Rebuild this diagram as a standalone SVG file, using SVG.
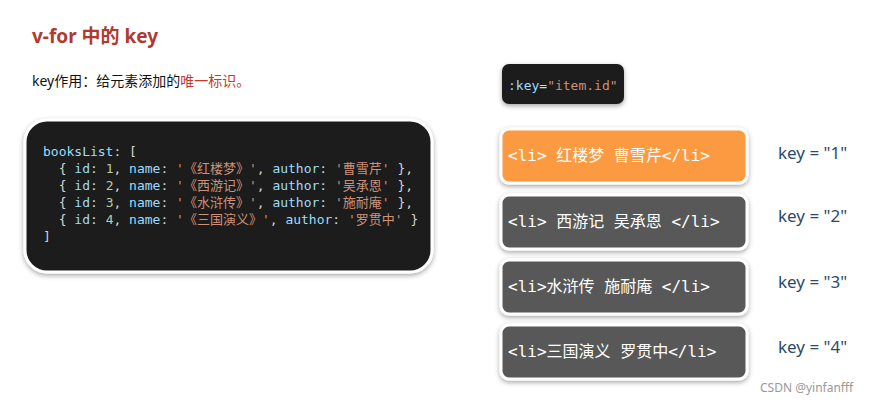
<svg xmlns="http://www.w3.org/2000/svg" width="892" height="403" viewBox="0 0 892 403">
<defs>
<filter id="sh" x="-10%" y="-10%" width="120%" height="130%"><feDropShadow dx="0" dy="2" stdDeviation="2.5" flood-color="#000" flood-opacity="0.35"/></filter>
<style>
.code{font-family:"DejaVu Sans Mono","Noto Sans CJK SC",monospace;font-size:13px;fill:#d4d4d4;white-space:pre}
.k{fill:#9cdcfe}.n{fill:#b5cea8}.s{fill:#ce9178}
.li{font-family:"DejaVu Sans Mono","Noto Sans CJK SC",monospace;font-size:16px;fill:#fff;white-space:pre}
.key{font-family:"Noto Sans","Liberation Sans",sans-serif;font-size:17px;fill:#2c4a6b}
.box{stroke:#fff;stroke-width:3}
</style>
</defs>
<rect width="892" height="403" fill="#fff"/>
<text x="32" y="43" font-family="Noto Sans,Noto Sans CJK SC,sans-serif" font-size="19" font-weight="bold" fill="#b03a2e">v-for 中的 key</text>
<text x="32" y="86" font-family="Noto Sans,Noto Sans CJK SC,sans-serif" font-size="14" fill="#111">key作用：给元素添加的<tspan fill="#c0392b">唯一标识。</tspan></text>
<g id="code">
<rect x="25" y="120" width="407" height="152" rx="22" fill="#1e1e1e" class="box" filter="url(#sh)"/>
<text class="code" x="43" y="156"><tspan class="k">booksList</tspan>: [</text>
<text class="code" x="43" y="173">  { <tspan class="k">id</tspan>: <tspan class="n">1</tspan>, <tspan class="k">name</tspan>: <tspan class="s">'《红楼梦》'</tspan>, <tspan class="k">author</tspan>: <tspan class="s">'曹雪芹'</tspan> },</text>
<text class="code" x="43" y="190">  { <tspan class="k">id</tspan>: <tspan class="n">2</tspan>, <tspan class="k">name</tspan>: <tspan class="s">'《西游记》'</tspan>, <tspan class="k">author</tspan>: <tspan class="s">'吴承恩'</tspan> },</text>
<text class="code" x="43" y="207">  { <tspan class="k">id</tspan>: <tspan class="n">3</tspan>, <tspan class="k">name</tspan>: <tspan class="s">'《水浒传》'</tspan>, <tspan class="k">author</tspan>: <tspan class="s">'施耐庵'</tspan> },</text>
<text class="code" x="43" y="224">  { <tspan class="k">id</tspan>: <tspan class="n">4</tspan>, <tspan class="k">name</tspan>: <tspan class="s">'《三国演义》'</tspan>, <tspan class="k">author</tspan>: <tspan class="s">'罗贯中'</tspan> }</text>
<text class="code" x="43" y="241">]</text>
</g>
<g id="keyattr">
<rect x="502" y="64" width="122" height="40" rx="7" fill="#1e1e1e" filter="url(#sh)"/>
<text class="code" x="508" y="90" font-size="13"><tspan class="k">:key</tspan>=<tspan class="s">"item.id"</tspan></text>
</g>
<g id="li1"><rect x="501" y="129" width="246" height="54" rx="8" fill="#fb9a3f" class="box" filter="url(#sh)"/><text class="li" x="508" y="161">&lt;li&gt; 红楼梦 曹雪芹&lt;/li&gt;</text></g>
<g id="li2"><rect x="501" y="195" width="246" height="54" rx="8" fill="#595959" class="box" filter="url(#sh)"/><text class="li" x="508" y="227">&lt;li&gt; 西游记 吴承恩 &lt;/li&gt;</text></g>
<g id="li3"><rect x="501" y="260" width="246" height="54" rx="8" fill="#595959" class="box" filter="url(#sh)"/><text class="li" x="508" y="292">&lt;li&gt;水浒传 施耐庵 &lt;/li&gt;</text></g>
<g id="li4"><rect x="501" y="325" width="246" height="54" rx="8" fill="#595959" class="box" filter="url(#sh)"/><text class="li" x="508" y="357">&lt;li&gt;三国演义 罗贯中&lt;/li&gt;</text></g>
<g id="keys">
<text class="key" x="778" y="159">key = "1"</text>
<text class="key" x="778" y="222">key = "2"</text>
<text class="key" x="778" y="288">key = "3"</text>
<text class="key" x="778" y="353">key = "4"</text>
</g>
<g id="connectors"/>
<text x="760" y="392" font-family="Noto Sans,Liberation Sans,sans-serif" font-size="12" fill="#999">CSDN @yinfanfff</text>
</svg>
